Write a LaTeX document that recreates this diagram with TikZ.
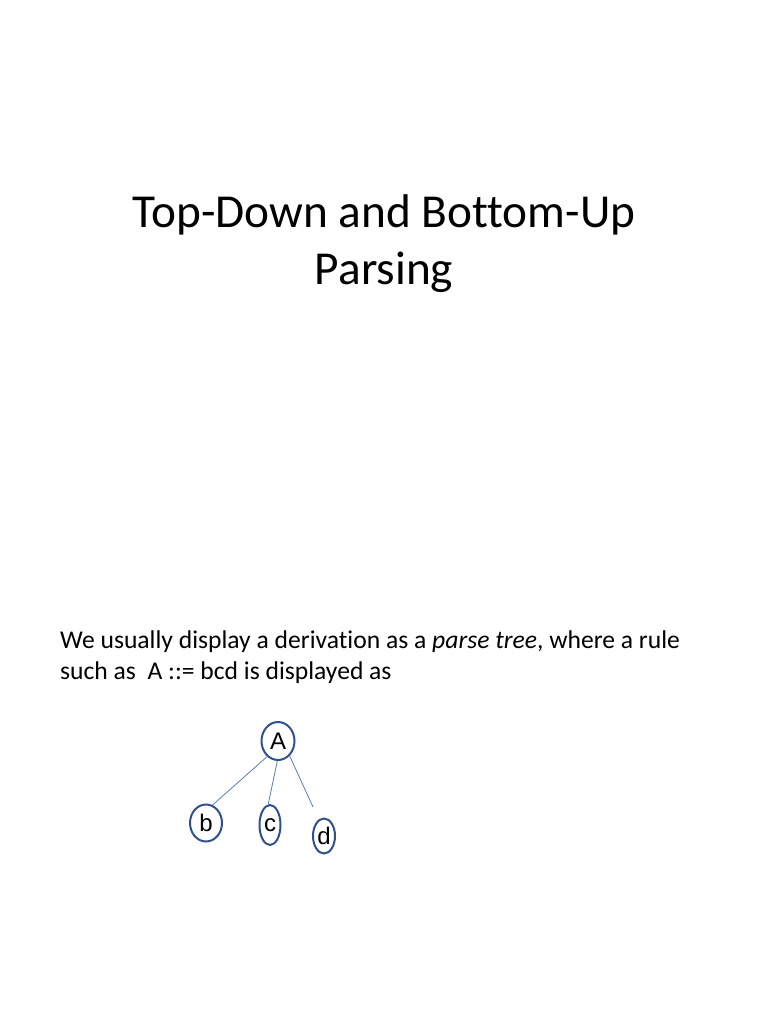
\documentclass[tikz,border=0pt]{standalone}
\usepackage{fontspec}
\setmainfont[Ligatures=CommonOff]{Carlito}
\newfontfamily\nodefont{Liberation Sans}
\usetikzlibrary{shapes.geometric}
\definecolor{edgeblue}{RGB}{47,82,143}
\definecolor{linkblue}{RGB}{90,125,175}
\tikzset{
  treenode/.style={ellipse, draw=edgeblue, line width=2pt, inner sep=0pt, font=\nodefont\fontsize{24}{28}\selectfont},
  link/.style={draw=linkblue, line width=0.8pt},
  title/.style={font=\fontsize{47.3}{56}\selectfont, anchor=base},
  body/.style={font=\fontsize{25.6}{30}\selectfont, anchor=base west, inner sep=0pt}
}
\begin{document}
\begin{tikzpicture}[x=1pt,y=-1pt]
\useasboundingbox (0,0) rectangle (768,1024);
\node[title] (t1) at (384,227) {Top-Down and Bottom-Up};
\node[title] (t2) at (384,284) {Parsing};
\node[body] (l1) at (60,648) {We usually display a derivation as a \textit{parse tree}, where a rule};
\node[body] (l2) at (60,679) {such as\ \ A ::= bcd is displayed as};
\node[treenode, minimum width=33pt, minimum height=38pt] (A) at (278,741) {A};
\node[treenode, minimum width=32pt, minimum height=37pt] (b) at (206,823) {b};
\node[treenode, minimum width=21pt, minimum height=40pt] (c) at (270,825) {c};
\node[treenode, minimum width=22pt, minimum height=35pt] (d) at (324,836) {d};
\coordinate (dend) at (313,807);
\draw[link] (A.235) -- (b.70);
\draw[link] (A.268) -- (c.95);
\draw[link] (A.-52) -- (dend);
\end{tikzpicture}
\end{document}
